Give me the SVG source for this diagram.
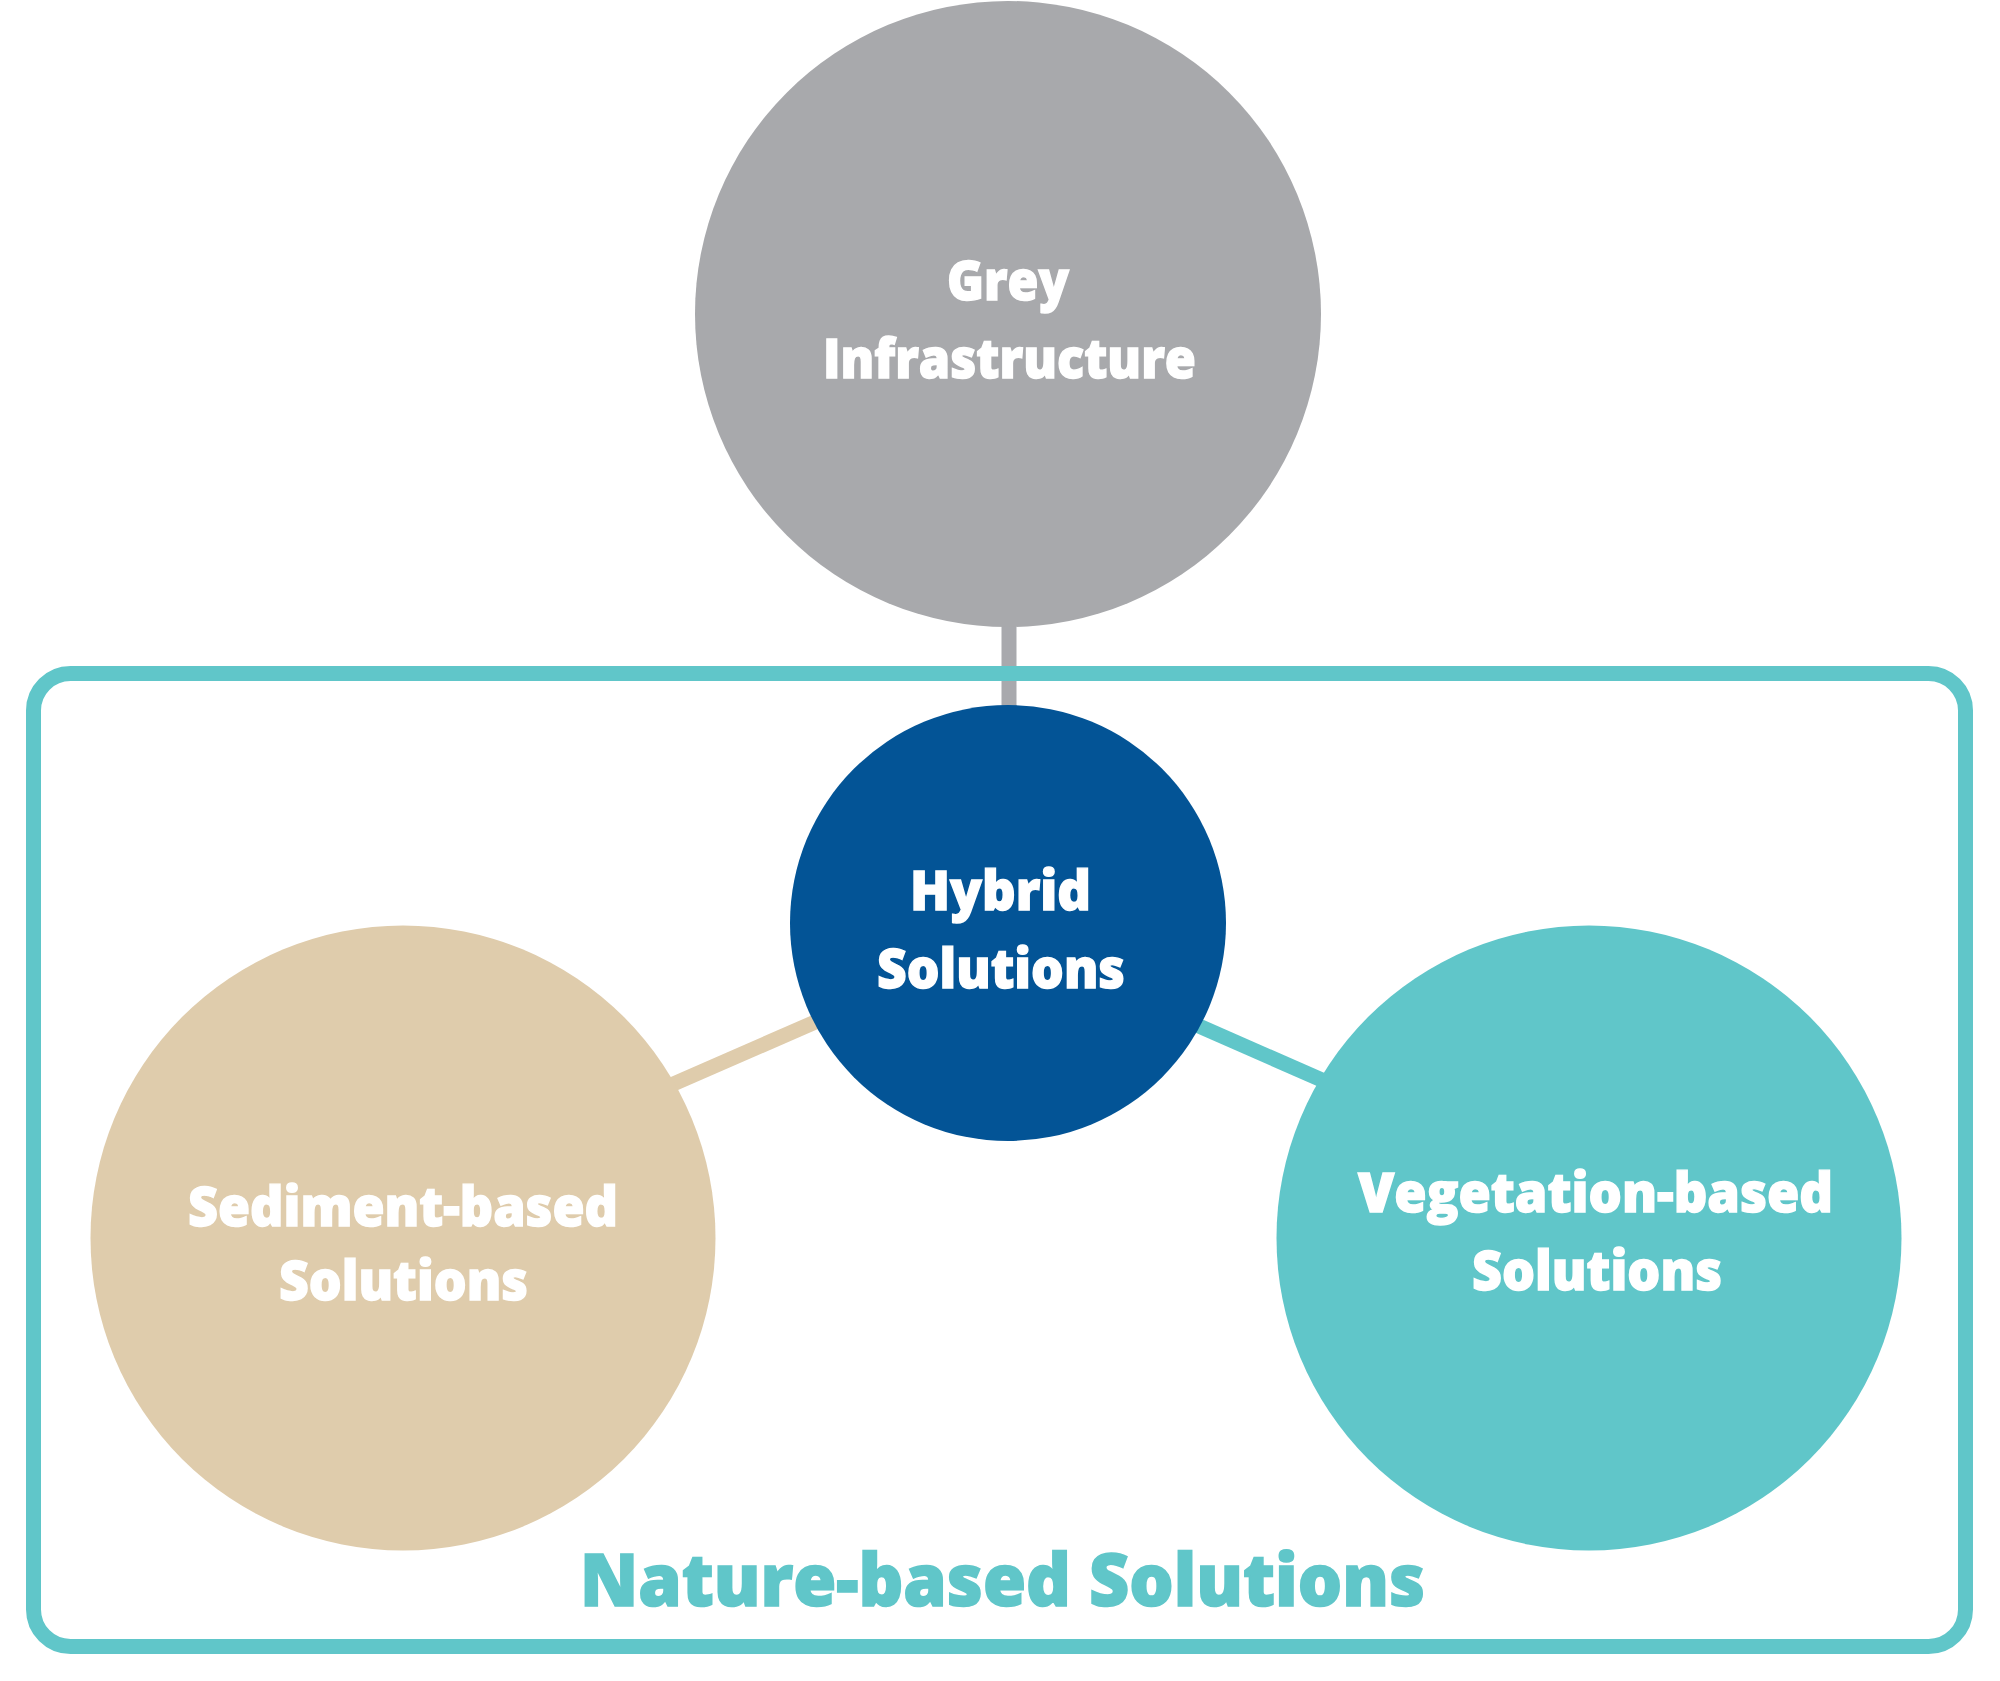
<svg xmlns="http://www.w3.org/2000/svg" width="2000" height="1681" viewBox="0 0 2000 1681">
<style>
.lbl{font-family:"Open Sans","Noto Sans","Liberation Sans",sans-serif;font-weight:800;font-size:54px;fill:#FFFFFF;stroke:#FFFFFF;stroke-width:1.4px}
.title{font-family:"Open Sans","Noto Sans","Liberation Sans",sans-serif;font-weight:800;font-size:73px;fill:#60C6C9;stroke:#60C6C9;stroke-width:1.6px}
.conn{stroke-width:15;fill:none}
</style>
<rect width="2000" height="1681" fill="#FFFFFF"/>
<g id="connectors">
<line class="conn" x1="1009" y1="590" x2="1009" y2="730" stroke="#A8A9AD"/>
<line class="conn" x1="600" y1="1116" x2="900" y2="985" stroke="#DFCCAC"/>
<line class="conn" x1="1110" y1="987" x2="1420" y2="1123" stroke="#60C6C9"/>
</g>
<g id="nature-based-frame">
<rect x="33.5" y="673.5" width="1932" height="973" rx="37" ry="37" fill="none" stroke="#60C6C9" stroke-width="15"/>
<text class="title" x="580" y="1606" textLength="845" lengthAdjust="spacingAndGlyphs">Nature-based Solutions</text>
</g>
<g id="grey-infrastructure">
<circle cx="1008" cy="314" r="313" fill="#A8A9AC"/>
<text class="lbl" x="947" y="300" textLength="122" lengthAdjust="spacingAndGlyphs">Grey</text>
<text class="lbl" x="823" y="378" textLength="373" lengthAdjust="spacingAndGlyphs">Infrastructure</text>
</g>
<g id="hybrid-solutions">
<circle cx="1008" cy="923" r="218" fill="#035496"/>
<text class="lbl" x="910" y="910" textLength="181" lengthAdjust="spacingAndGlyphs">Hybrid</text>
<text class="lbl" x="877" y="988" textLength="248" lengthAdjust="spacingAndGlyphs">Solutions</text>
</g>
<g id="sediment-based">
<circle cx="403" cy="1238" r="312.5" fill="#DFCCAC"/>
<text class="lbl" x="188" y="1226" textLength="430" lengthAdjust="spacingAndGlyphs">Sediment-based</text>
<text class="lbl" x="279" y="1300" textLength="249" lengthAdjust="spacingAndGlyphs">Solutions</text>
</g>
<g id="vegetation-based">
<circle cx="1589" cy="1238" r="312.5" fill="#60C6C9"/>
<text class="lbl" x="1358" y="1212" textLength="475" lengthAdjust="spacingAndGlyphs">Vegetation-based</text>
<text class="lbl" x="1472" y="1290" textLength="250" lengthAdjust="spacingAndGlyphs">Solutions</text>
</g>
</svg>
